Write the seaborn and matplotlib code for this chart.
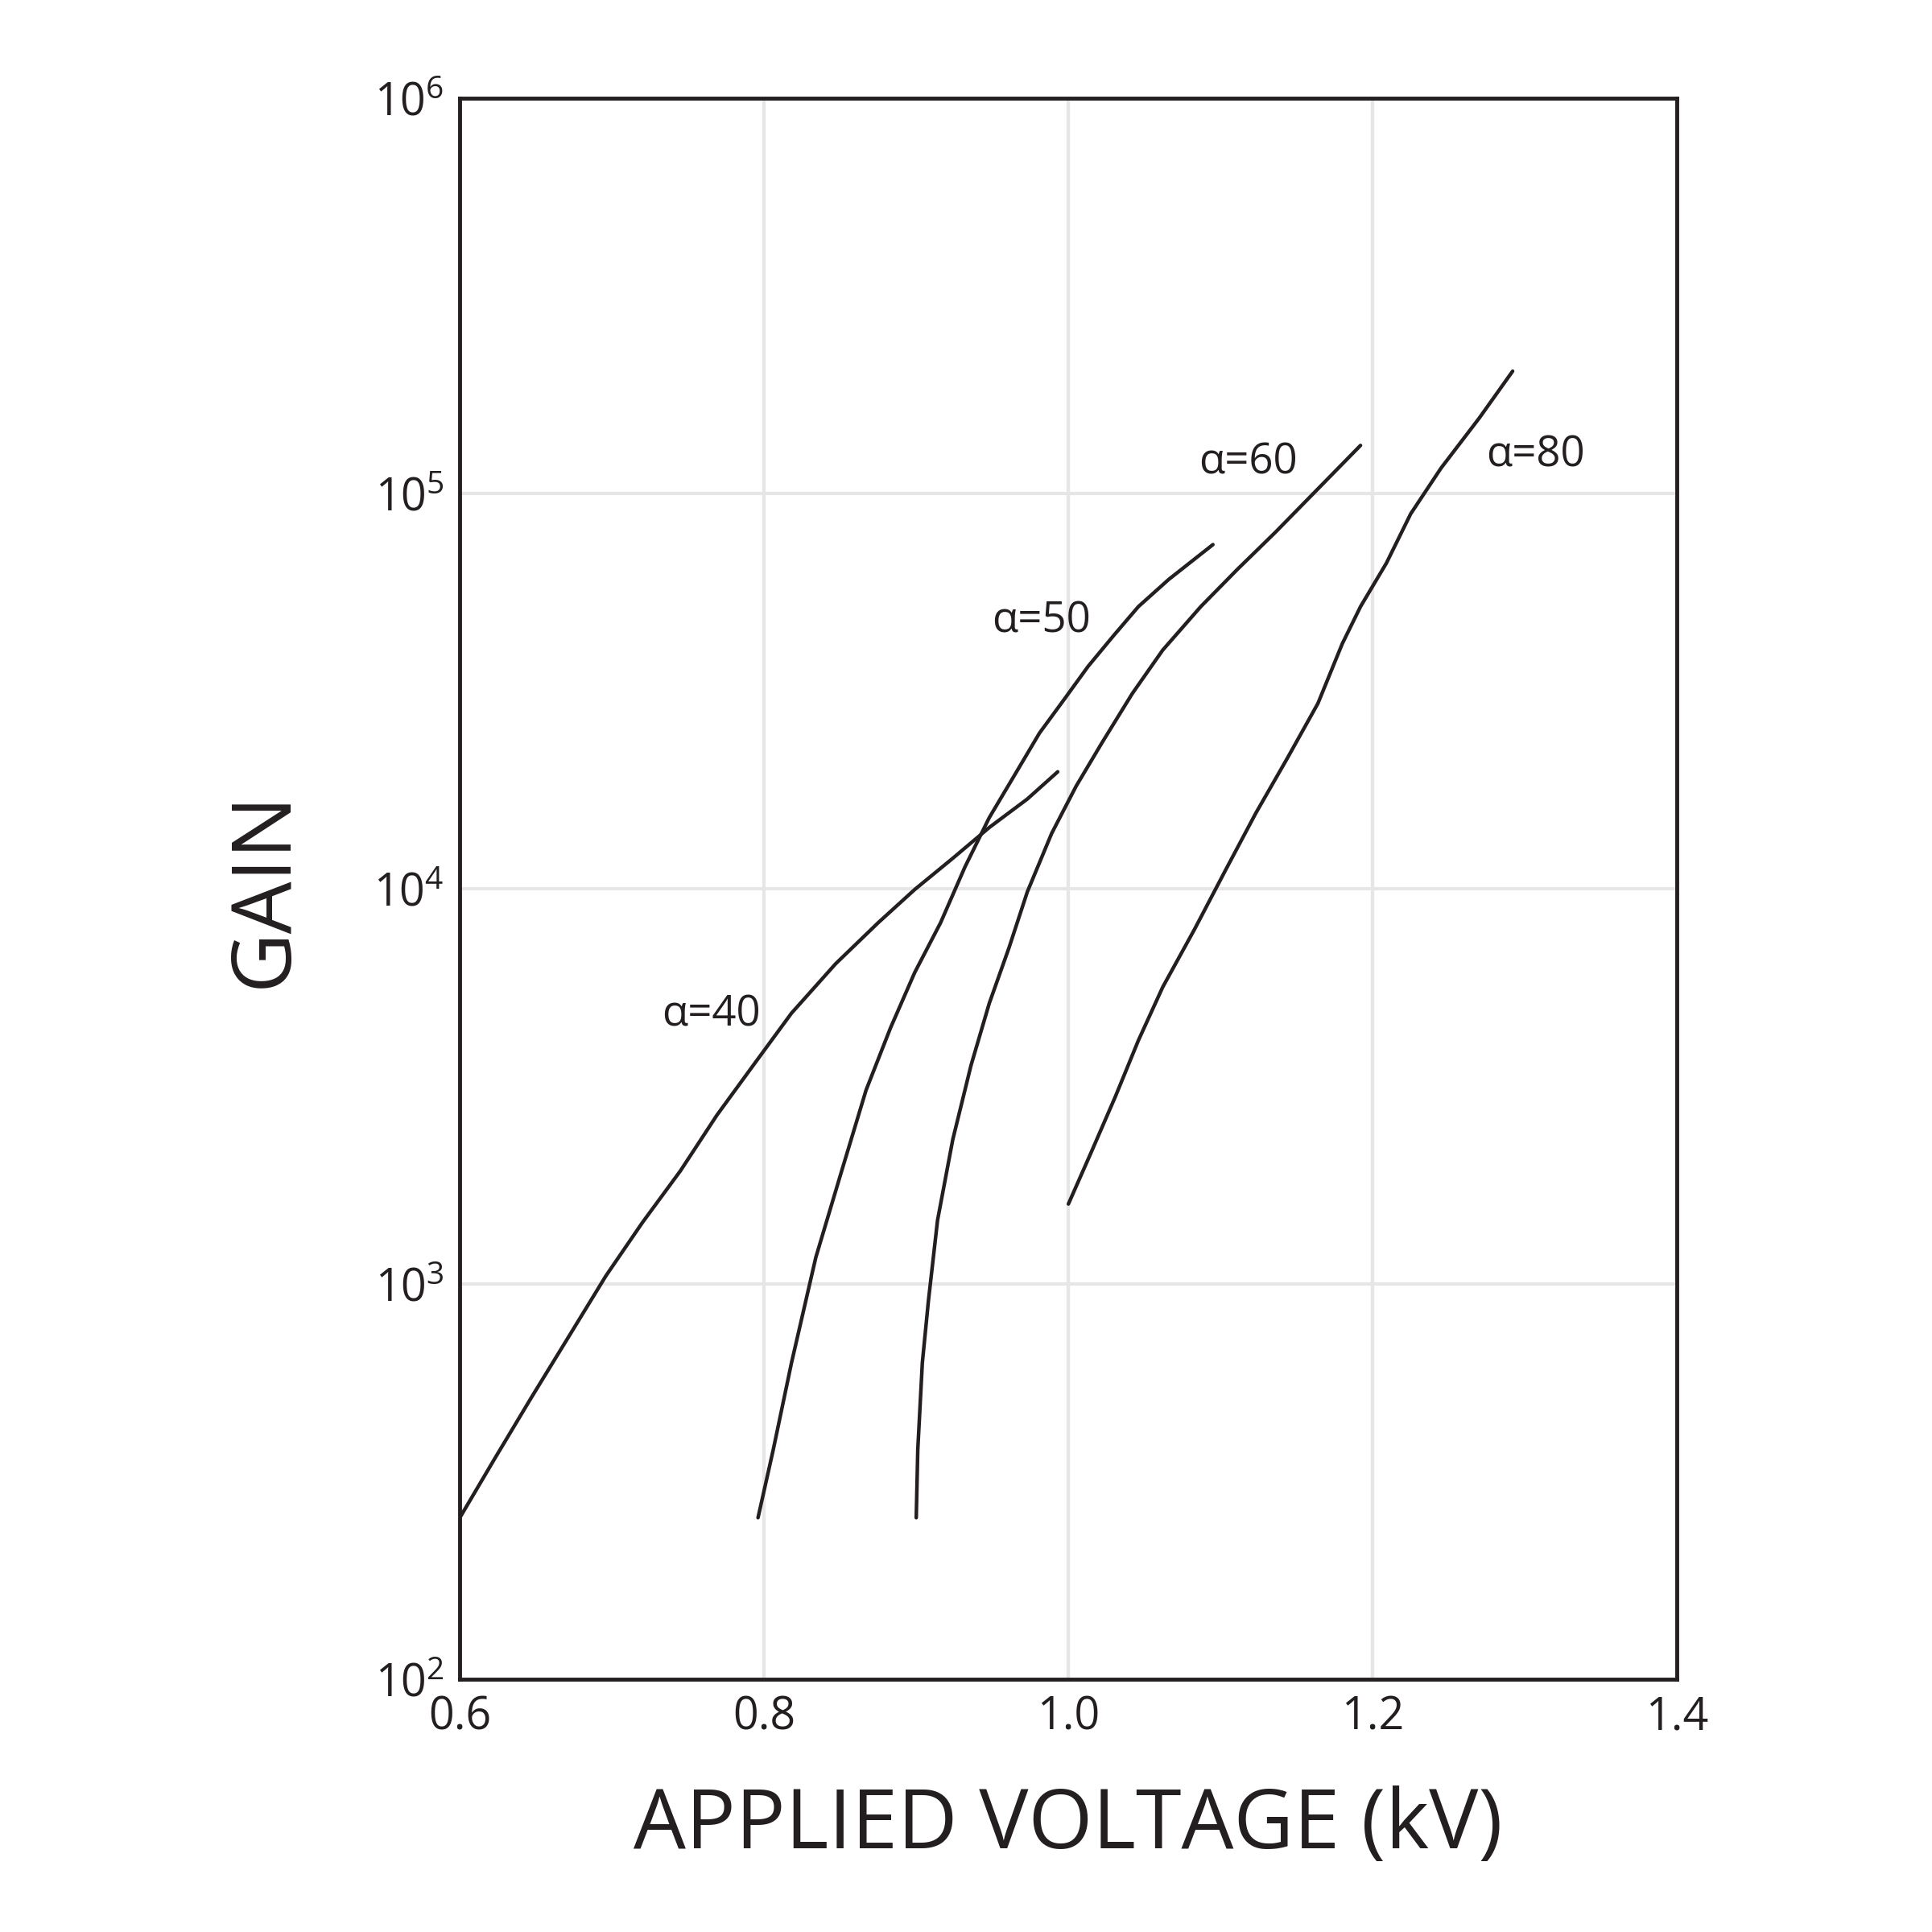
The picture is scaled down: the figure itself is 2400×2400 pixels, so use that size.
import numpy as np
import pandas as pd
import seaborn as sns
import matplotlib.pyplot as plt
from matplotlib.ticker import FixedLocator, FixedFormatter

sns.set_style("white")
plt.rcParams['font.family'] = ['Open Sans', 'DejaVu Sans']
plt.rcParams['mathtext.fontset'] = 'custom'
plt.rcParams['mathtext.rm'] = 'Open Sans'

# values: voltage (kV) and gain exponent (log10 of gain)
v40 = [0.600, 0.623, 0.647, 0.672, 0.696, 0.720, 0.745, 0.769, 0.794, 0.818, 0.847,
       0.875, 0.899, 0.924, 0.948, 0.973, 0.993]
e40 = [2.408, 2.558, 2.712, 2.869, 3.020, 3.155, 3.286, 3.427, 3.559, 3.685, 3.810,
       3.914, 3.998, 4.077, 4.155, 4.227, 4.296]
v50 = [0.796, 0.806, 0.818, 0.834, 0.851, 0.867, 0.883, 0.899, 0.916, 0.932, 0.948,
       0.965, 0.981, 0.997, 1.013, 1.030, 1.046, 1.066, 1.095]
e50 = [2.408, 2.580, 2.800, 3.067, 3.286, 3.490, 3.647, 3.788, 3.914, 4.055, 4.180,
       4.290, 4.394, 4.478, 4.563, 4.642, 4.714, 4.783, 4.871]
v60 = [0.900, 0.901, 0.904, 0.908, 0.914, 0.924, 0.936, 0.948, 0.961, 0.973, 0.989,
       1.005, 1.022, 1.042, 1.062, 1.087, 1.111, 1.136, 1.164, 1.192]
e60 = [2.408, 2.580, 2.800, 2.957, 3.161, 3.365, 3.553, 3.710, 3.851, 3.992, 4.140,
       4.259, 4.369, 4.494, 4.604, 4.714, 4.808, 4.902, 5.012, 5.122]
v80 = [1.000, 1.015, 1.031, 1.046, 1.062, 1.083, 1.103, 1.123, 1.144, 1.164, 1.180,
       1.192, 1.209, 1.225, 1.245, 1.270, 1.292]
e80 = [3.202, 3.333, 3.475, 3.616, 3.751, 3.898, 4.045, 4.190, 4.331, 4.469, 4.620,
       4.714, 4.824, 4.949, 5.065, 5.191, 5.310]

labels = ['α=40', 'α=50', 'α=60', 'α=80']
label_x = [0.765, 0.982, 1.118, 1.307]
label_y = [4800, 47500, 120000, 125000]

rows = []
for lab, vs, es in zip(labels, [v40, v50, v60, v80], [e40, e50, e60, e80]):
    for v, e in zip(vs, es):
        rows.append({'curve': lab, 'V': v, 'G': 10 ** e})
df = pd.DataFrame(rows)

fig = plt.figure(figsize=(24, 24), dpi=100)
ax = fig.add_axes([0.238, 0.131, 0.630, 0.818])
for lab in labels:
    sub = df[df.curve == lab]
    sns.lineplot(data=sub, x='V', y='G', ax=ax, color='#231f20', lw=3.2, sort=False)

ax.set_yscale('log')
ax.set_xlim(0.6, 1.4)
ax.set_ylim(1e2, 1e6)
ax.xaxis.set_major_locator(FixedLocator([0.6, 0.8, 1.0, 1.2, 1.4]))
ax.yaxis.set_major_locator(FixedLocator([1e2, 1e3, 1e4, 1e5, 1e6]))
ax.yaxis.set_major_formatter(FixedFormatter([r'$10^{2}$', r'$10^{3}$', r'$10^{4}$', r'$10^{5}$', r'$10^{6}$']))
ax.yaxis.set_minor_locator(FixedLocator([]))
ax.grid(True, which='major', color='#e6e6e6', lw=3)
ax.tick_params(axis='both', length=0, labelsize=40, colors='#231f20', pad=14)
for s in ax.spines.values():
    s.set_linewidth(3.5)
    s.set_color('#231f20')
ax.set_xlabel('APPLIED VOLTAGE (kV)', fontsize=74, color='#231f20', labelpad=40)
ax.set_ylabel('GAIN', fontsize=74, color='#231f20', labelpad=60)

for lab, x, y in zip(labels, label_x, label_y):
    ax.text(x, y, lab, fontsize=38, color='#231f20', ha='center', va='center')

fig.savefig('out.png', dpi=100)
